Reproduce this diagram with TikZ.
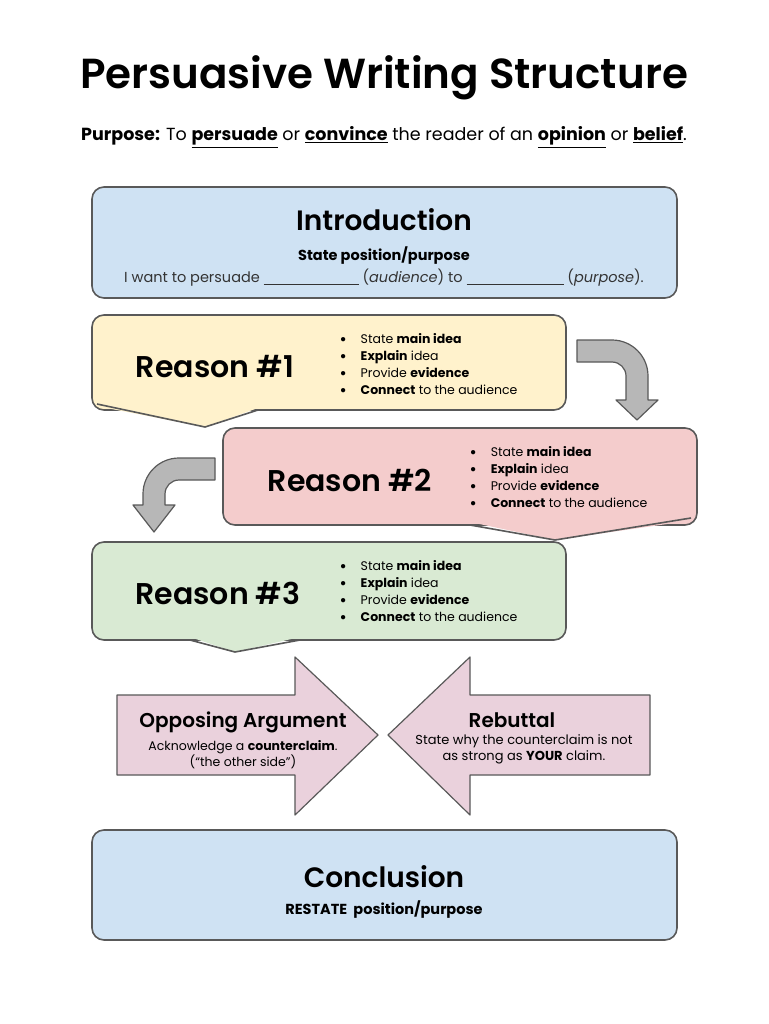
\documentclass[tikz,border=0pt]{standalone}
\usepackage{fontspec}
\setmainfont{Poppins}
\newfontfamily\hand{Poppins SemiBold}
\usetikzlibrary{positioning}
\definecolor{blu}{HTML}{CFE2F3}
\definecolor{yel}{HTML}{FFF2CC}
\definecolor{red}{HTML}{F4CCCC}
\definecolor{grn}{HTML}{D9EAD3}
\definecolor{pnk}{HTML}{EAD1DC}
\definecolor{edge}{HTML}{595959}
\definecolor{arr}{HTML}{B7B7B7}
\begin{document}
\begin{tikzpicture}[x=1pt,y=-1pt,
 box/.style={draw=edge,line width=1.6pt,rounded corners=12pt,inner sep=0pt},
 ttl/.style={font=\hand\fontsize{28}{30}\selectfont},
 rs/.style={font=\hand\fontsize{30}{32}\selectfont},
 bl/.style={font=\fontsize{12.5}{17}\selectfont,align=left,anchor=west},
 txt/.style={font=\fontsize{14.5}{16}\selectfont,align=center},
 garrow/.style={fill=arr,draw=edge,line width=1.2pt,line join=round},
 parrow/.style={fill=pnk,draw=edge,line width=1.2pt,line join=round}]
\useasboundingbox (0,0) rectangle (768,1024);
\fill[white] (0,0) rectangle (768,1024);
% title
\node[font=\hand\fontsize{42}{46}\selectfont] (title) at (384,78) {Persuasive Writing Structure};
\node[font=\fontsize{17.5}{20}\selectfont] (purpose) at (384,137) {\textbf{Purpose:} To \underline{\textbf{persuade}} or \underline{\textbf{convince}} the reader of an \underline{\textbf{opinion}} or \underline{\textbf{belief}}.};
% introduction
\node[box,fill=blu,minimum width=585pt,minimum height=111pt] (intro) at (384.5,242.5) {};
\node[ttl] (introt) at (384,220) {Introduction};
\node[txt,font=\bfseries\fontsize{14.5}{16}\selectfont] (introa) at (384,256) {State position/purpose};
\node[txt,text=black!80] (introb) at (384,278) {I want to persuade \underline{\hspace{95pt}} (\textit{audience}) to \underline{\hspace{97pt}} (\textit{purpose}).};
% reason boxes
\newcommand\bul{\raisebox{-1.2pt}{\scalebox{1.4}{\textbullet}}\hspace{14pt}}
\newcommand\blist{\bul State \textbf{main idea}\\ \bul\textbf{Explain} idea\\ \bul Provide \textbf{evidence}\\ \bul\textbf{Connect} to the audience}
\node[box,fill=yel,minimum width=474pt,minimum height=95pt] (r1) at (329,362.5) {};
\fill[yel] (96,406) -- (205,427) -- (258,408) -- (100,400) -- cycle;
\draw[edge,line width=1.6pt,line join=round] (97,404) -- (205,427) -- (258,410);
\node[rs] (r1t) at (215,367) {Reason \#1};
\node[bl] (r1b) at (336,365) {\blist};

\node[box,fill=red,minimum width=474pt,minimum height=97pt] (r2) at (460,476.5) {};
\fill[red] (470,522) -- (555,540) -- (688,521) -- (680,515) -- cycle;
\draw[edge,line width=1.6pt,line join=round] (470,525) -- (555,540) -- (691,518);
\node[rs] (r2t) at (350,480) {Reason \#2};
\node[bl] (r2b) at (466,478) {\blist};

\node[box,fill=grn,minimum width=474pt,minimum height=98pt] (r3) at (329,591) {};
\fill[grn] (190,637) -- (235,652) -- (300,637) -- cycle;
\draw[edge,line width=1.6pt,line join=round] (190,640) -- (235,652) -- (300,640);
\node[rs] (r3t) at (218,593) {Reason \#3};
\node[bl] (r3b) at (336,592) {\blist};
% gray arrows
\draw[garrow] (577,340) -- (612,340) arc(-90:0:36) -- (648,400) -- (658,400) -- (637,420) -- (616,400) -- (626,400) -- (626,376) arc(0:-90:14) -- (577,362) -- cycle;
\draw[garrow] (215,458) -- (179,458) arc(270:180:36) -- (143,505) -- (133,505) -- (154,532) -- (175,505) -- (165,505) -- (165,494) arc(180:270:14) -- (215,480) -- cycle;
% opposing / rebuttal
\draw[parrow] (117,695) -- (295,695) -- (295,657) -- (378,735) -- (295,815) -- (295,775) -- (117,775) -- cycle;
\node[font=\hand\fontsize{20}{22}\selectfont] (oppt) at (243,722) {Opposing Argument};
\node[txt,font=\fontsize{12.5}{16}\selectfont] (oppb) at (243,755) {Acknowledge a \textbf{counterclaim}.\\(“the other side”)};
\draw[parrow] (650,695) -- (470,695) -- (470,657) -- (388,735) -- (470,815) -- (470,775) -- (650,775) -- cycle;
\node[font=\hand\fontsize{20}{22}\selectfont] (rebt) at (512,720) {Rebuttal};
\node[txt,font=\fontsize{13}{16}\selectfont] (rebb) at (524,749) {State why the counterclaim is not\\as strong as \textbf{YOUR} claim.};
% conclusion
\node[box,fill=blu,minimum width=585pt,minimum height=110pt] (concl) at (384.5,885) {};
\node[ttl] (conclt) at (384,877) {Conclusion};
\node[txt,font=\bfseries\fontsize{14.5}{16}\selectfont] (conclb) at (384,910) {RESTATE\ \ position/purpose};
\end{tikzpicture}
\end{document}
